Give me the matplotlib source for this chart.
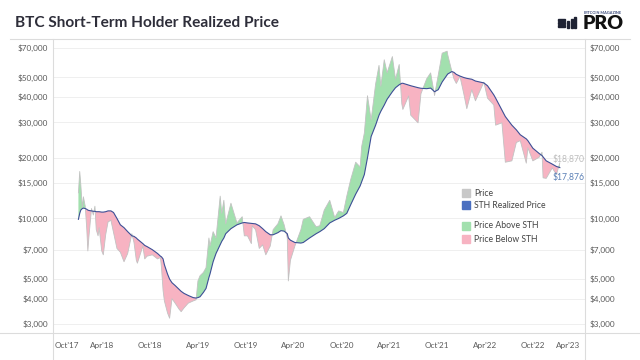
import matplotlib

matplotlib.use("Agg")

import matplotlib.pyplot as plt
import numpy as np
import pandas as pd
from matplotlib.lines import Line2D
from matplotlib.patches import Polygon, Rectangle

# values (USD)
dates = [
    "2018-01-01", "2018-01-06", "2018-01-10", "2018-01-16", "2018-01-20",
    "2018-01-27", "2018-02-02", "2018-02-06", "2018-02-10", "2018-02-20",
    "2018-02-27", "2018-03-05", "2018-03-10", "2018-03-17", "2018-03-21",
    "2018-03-31", "2018-04-06", "2018-04-15", "2018-04-24", "2018-05-05",
    "2018-05-15", "2018-05-28", "2018-06-10", "2018-06-24", "2018-07-08",
    "2018-07-24", "2018-08-01", "2018-08-10", "2018-08-14", "2018-09-04",
    "2018-09-11", "2018-09-20", "2018-10-10", "2018-10-30", "2018-11-10",
    "2018-11-14", "2018-11-20", "2018-11-25", "2018-12-07", "2018-12-15",
    "2018-12-24", "2019-01-05", "2019-01-20", "2019-01-28", "2019-02-08",
    "2019-02-24", "2019-03-15", "2019-03-26", "2019-04-02", "2019-04-10",
    "2019-04-23", "2019-05-03", "2019-05-14", "2019-05-18", "2019-05-30",
    "2019-06-10", "2019-06-26", "2019-07-02", "2019-07-10", "2019-07-17",
    "2019-08-06", "2019-08-29", "2019-09-18", "2019-09-26", "2019-10-08",
    "2019-10-23", "2019-10-26", "2019-11-08", "2019-11-22", "2019-12-05",
    "2019-12-17", "2020-01-03", "2020-01-14", "2020-02-01", "2020-02-13",
    "2020-02-25", "2020-03-08", "2020-03-12", "2020-03-20", "2020-04-06",
    "2020-04-29", "2020-05-08", "2020-06-01", "2020-06-26", "2020-07-10",
    "2020-07-27", "2020-08-17", "2020-09-05", "2020-09-20", "2020-10-08",
    "2020-10-21", "2020-11-05", "2020-11-24", "2020-12-11", "2020-12-17",
    "2020-12-27", "2021-01-08", "2021-01-22", "2021-02-08", "2021-02-21",
    "2021-02-28", "2021-03-13", "2021-03-24", "2021-04-13", "2021-04-25",
    "2021-05-09", "2021-05-19", "2021-05-23", "2021-06-14", "2021-06-22",
    "2021-07-20", "2021-07-31", "2021-08-22", "2021-09-06", "2021-09-21",
    "2021-10-05", "2021-10-20", "2021-11-08", "2021-11-10", "2021-11-26",
    "2021-12-04", "2021-12-13", "2021-12-27", "2022-01-10", "2022-01-22",
    "2022-02-10", "2022-02-24", "2022-03-28", "2022-04-11", "2022-05-05",
    "2022-05-12", "2022-06-05", "2022-06-18", "2022-07-13", "2022-07-30",
    "2022-08-14", "2022-09-06", "2022-09-12", "2022-10-01", "2022-10-25",
    "2022-11-05", "2022-11-09", "2022-11-21", "2022-12-14", "2022-12-30",
    "2023-01-12",
]
price = [
    13400, 17100, 14800, 11300, 12800, 11500, 8800, 6900, 8100, 11200,
    10400, 11500, 8800, 8200, 9000, 6900, 6600, 8300, 9600, 9800,
    8500, 7100, 6800, 6100, 6700, 8400, 7600, 6200, 6000, 7300,
    6300, 6500, 6600, 6300, 6400, 5700, 4400, 3900, 3400, 3200,
    4000, 3800, 3550, 3450, 3600, 3800, 3900, 3950, 4900, 5200,
    5400, 5700, 8000, 7300, 8600, 8000, 12900, 10600, 12300, 9400,
    11900, 9500, 10200, 8200, 8200, 7500, 9200, 8800, 7100, 7400,
    6600, 7300, 8800, 9400, 10300, 9300, 8000, 4900, 6200, 7300,
    8800, 9900, 10200, 9100, 9200, 11000, 12300, 10100, 10900, 10700,
    12900, 15600, 19000, 18000, 22800, 26500, 40600, 30800, 46400, 57400,
    45200, 61200, 52800, 63500, 49000, 58000, 37000, 34700, 40500, 32500,
    29800, 41500, 49300, 52700, 40700, 51500, 66000, 67500, 65000, 53600,
    49200, 46700, 50600, 41800, 35000, 43500, 38300, 47400, 39500, 36500,
    29000, 29800, 19000, 19300, 23800, 24300, 18800, 22400, 19300, 20100,
    21300, 15900, 15800, 17800, 16500, 18870,
]
sth_price = [
    9900, 10600, 11000, 11200, 11250, 11200, 11100, 11000, 10950, 10900,
    10850, 10850, 10800, 10800, 10800, 10750, 10750, 10800, 10900, 10900,
    10700, 10000, 9300, 9000, 8600, 8200, 8150, 8000, 7900, 7500,
    7350, 7250, 7000, 6700, 6500, 6450, 6300, 5900, 5300, 5000,
    4800, 4650, 4450, 4350, 4250, 4150, 4050, 4030, 4050, 4090,
    4300, 4500, 5100, 5300, 6100, 6700, 7400, 7700, 8000, 8400,
    8900, 9300, 9500, 9550, 9500, 9450, 9450, 9400, 9200, 8900,
    8600, 8300, 8300, 8500, 8700, 8650, 8400, 8000, 7800, 7600,
    7550, 7600, 8000, 8400, 8600, 8900, 9500, 9800, 10000, 10300,
    10600, 11700, 13200, 14500, 15200, 16500, 20000, 25500, 29000, 32500,
    34000, 36500, 39000, 42500, 44500, 46000, 46800, 46800, 45800, 45500,
    44500, 44200, 44000, 44300, 42500, 43500, 47500, 51500, 52000, 53500,
    53000, 51800, 50800, 50000, 49500, 49000, 48000, 47000, 45500, 41000,
    39500, 34500, 32000, 29000, 27500, 26000, 24800, 24300, 22300, 21000,
    20500, 20200, 19300, 18600, 18100, 17876,
]

tick_dates = [
    "2017-10-01", "2018-04-01", "2018-10-01", "2019-04-01", "2019-10-01",
    "2020-04-01", "2020-10-01", "2021-04-01", "2021-10-01", "2022-04-01",
    "2022-10-01", "2023-04-01",
]
tick_labels = [
    "Oct'17", "Apr'18", "Oct'18", "Apr'19", "Oct'19", "Apr'20",
    "Oct'20", "Apr'21", "Oct'21", "Apr'22", "Oct'22", "Apr'23",
]
y_ticks = [3000, 4000, 5000, 7000, 10000, 15000, 20000, 30000, 40000, 50000, 70000]

GREEN = "#a2e0ae"
PINK = "#f7b3c2"
GREY = "#c2c2c2"
NAVY = "#3d4f96"
LINE = "#dcdcdc"
TEXT = "#5a5a5a"

plt.rcParams["font.family"] = ["Lato", "DejaVu Sans"]

x = pd.to_datetime(dates)
p = np.array(price, dtype=float)
s = np.array(sth_price, dtype=float)

fig = plt.figure(figsize=(6.4, 3.6), dpi=100)
W, H = 640, 360
ax = fig.add_axes([53 / W, 1 - 333 / H, 532 / W, 293 / H])

ax.fill_between(x, s, p, where=p >= s, interpolate=True, color=GREEN, lw=0)
ax.fill_between(x, s, p, where=p < s, interpolate=True, color=PINK, lw=0)
ax.plot(x, p, color=GREY, lw=0.6)
ax.plot(x, s, color=NAVY, lw=0.8)

ax.set_yscale("log")
ax.set_ylim(2704, 76700)
ax.set_xlim(pd.Timestamp("2017-09-26"), pd.Timestamp("2023-04-18"))
ax.set_yticks(y_ticks)
ax.set_yticklabels([f"${v:,}" for v in y_ticks])
ax.yaxis.set_minor_locator(matplotlib.ticker.NullLocator())
ax.set_xticks(pd.to_datetime(tick_dates))
ax.set_xticklabels(tick_labels)
xt = ax.get_xticklabels()
xt[0].set_ha("left")
xt[-1].set_ha("right")

ax.tick_params(axis="both", length=0, labelsize=5.9, colors=TEXT)
ax.tick_params(axis="y", pad=3.3, labelleft=True, labelright=True)
ax.tick_params(axis="x", pad=6.8)
for side in ax.spines.values():
    side.set_visible(False)
for v in y_ticks:
    ax.axhline(v, color="#efefef", lw=0.7, zorder=0)

# end-of-series value labels
ax.annotate("$18,870", xy=(x[-1], p[-1]), xytext=(17.5, 2.8),
            textcoords="offset points", ha="right", va="center",
            fontsize=6.2, color="#bdbdbd")
ax.annotate("$17,876", xy=(x[-1], s[-1]), xytext=(17.5, -6.5),
            textcoords="offset points", ha="right", va="center",
            fontsize=6.2, color="#5b80b6")

# frame lines of the dashboard
def fig_line(x0, y0, x1, y1):
    fig.add_artist(Line2D([x0 / W, x1 / W], [1 - y0 / H, 1 - y1 / H],
                          color=LINE, lw=0.8, transform=fig.transFigure))

fig_line(10, 38.5, 630, 38.5)
fig_line(0, 333, 640, 333)
fig_line(53, 38.5, 53, 360)
fig_line(585, 38.5, 585, 360)

# legend
legend_items = [
    ("Price", "#c8c8c8", 193),
    ("STH Realized Price", "#4a6fc0", 205),
    ("Price Above STH", GREEN, 226),
    ("Price Below STH", PINK, 239),
]
for label, colour, yc in legend_items:
    fig.add_artist(Rectangle((462 / W, 1 - (yc + 4) / H), 8 / W, 8 / H,
                             color=colour, transform=fig.transFigure))
    fig.text(474 / W, 1 - yc / H, label, fontsize=6.2, color="#444444",
             va="center", ha="left")

# title
fig.text(15 / W, 1 - 23 / H, "BTC Short-Term Holder Realized Price",
         fontsize=11.1, fontweight="bold", color="#2e2e3a",
         va="center", ha="left")

# logo
for yy in (19, 22, 25):
    fig.add_artist(Polygon([(558 / W, 1 - yy / H), (565 / W, 1 - yy / H),
                            (565 / W, 1 - (yy + 1.8) / H), (558 / W, 1 - (yy + 1.8) / H)],
                           color="#1e2233", transform=fig.transFigure))
for bx, top in ((567, 21), (570.5, 19), (574, 17)):
    fig.add_artist(Polygon([(bx / W, 1 - 28 / H), ((bx + 2) / W, 1 - 28 / H),
                            ((bx + 2) / W, 1 - top / H), (bx / W, 1 - top / H)],
                           color="#1e2233", transform=fig.transFigure))
fig.text(603 / W, 1 - 13.5 / H, "BITCOIN MAGAZINE", fontsize=2.8,
         fontweight="bold", color="#3a4a7a", ha="center", va="center")
fig.text(603 / W, 1 - 23.5 / H, "PRO", fontsize=14, fontweight="heavy",
         color="#111111", ha="center", va="center")

fig.savefig("out.png", dpi=100)
